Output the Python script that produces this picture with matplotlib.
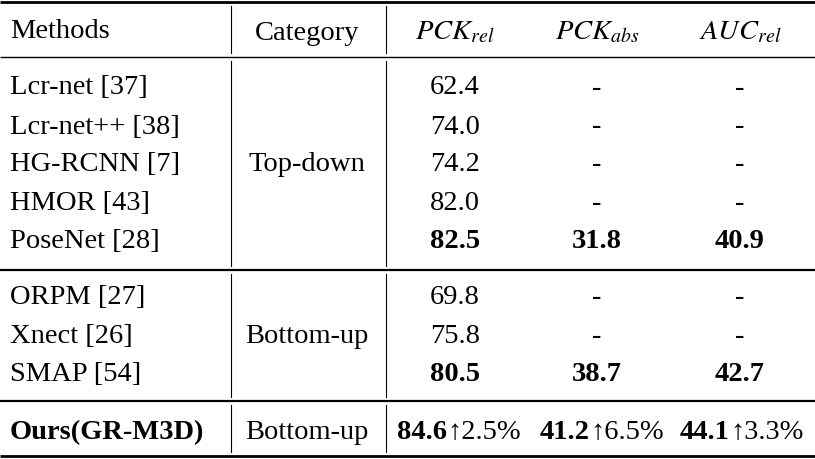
import matplotlib
matplotlib.use("Agg")
import matplotlib.pyplot as plt

plt.rcParams['mathtext.fontset'] = 'stix'
FAM = ['Liberation Serif', 'DejaVu Serif']

headers = ["Methods", "Category", r"$PCK_{rel}$", r"$PCK_{abs}$", r"$AUC_{rel}$"]
top_methods = ["Lcr-net [37]", "Lcr-net++ [38]", "HG-RCNN [7]", "HMOR [43]", "PoseNet [28]"]
top_pck_rel = ["62.4", "74.0", "74.2", "82.0", "82.5"]
top_pck_abs = ["-", "-", "-", "-", "31.8"]
top_auc_rel = ["-", "-", "-", "-", "40.9"]
top_category = "Top-down"
bot_methods = ["ORPM [27]", "Xnect [26]", "SMAP [54]"]
bot_pck_rel = ["69.8", "75.8", "80.5"]
bot_pck_abs = ["-", "-", "38.7"]
bot_auc_rel = ["-", "-", "42.7"]
bot_category = "Bottom-up"
ours_method = "Ours(GR-M3D)"
ours_category = "Bottom-up"
ours_vals = ["84.6", "41.2", "44.1"]
ours_gain = ["↑2.5%", "↑6.5%", "↑3.3%"]

W, H = 815, 460
fig = plt.figure(figsize=(W/100, H/100), dpi=100)
ax = fig.add_axes([0, 0, 1, 1])
ax.set_xlim(0, W); ax.set_ylim(H, 0); ax.axis('off')
FS = 20.5

def t(x, y, s, ha='center', bold=False):
    ax.text(x, y, s, ha=ha, va='center', fontsize=FS, family=FAM,
            fontweight='bold' if (bold and s != '-') else 'normal')

colx = [10, 307, 455, 597, 740]
t(colx[0], 32, headers[0], ha='left')
for i in range(1, 5):
    t(colx[i], 33, headers[i])

rows_top = [88, 127, 165, 204, 242]
for i, y in enumerate(rows_top):
    best = i == len(rows_top) - 1
    t(colx[0], y, top_methods[i], ha='left')
    t(colx[2], y, top_pck_rel[i], bold=best)
    t(colx[3], y, top_pck_abs[i], bold=best)
    t(colx[4], y, top_auc_rel[i], bold=best)
t(colx[1], rows_top[2], top_category)

rows_bot = [298, 337, 375]
for i, y in enumerate(rows_bot):
    best = i == len(rows_bot) - 1
    t(colx[0], y, bot_methods[i], ha='left')
    t(colx[2], y, bot_pck_rel[i], bold=best)
    t(colx[3], y, bot_pck_abs[i], bold=best)
    t(colx[4], y, bot_auc_rel[i], bold=best)
t(colx[1], rows_bot[1], bot_category)

yo = 433
t(colx[0], yo, ours_method, ha='left', bold=True)
t(colx[1], yo, ours_category)
splits = [447, 590, 730]
for v, g, sx in zip(ours_vals, ours_gain, splits):
    t(sx, yo, v, ha='right', bold=True)
    t(sx, yo, g, ha='left')

for y, lw in [(3, 2.0), (58, 1.0), (271, 1.6), (402, 1.6), (457, 2.0)]:
    ax.plot([0, W], [y, y], color='black', lw=lw, solid_capstyle='butt')

for x in [231, 386]:
    for y0, y1 in [(3, 58), (58, 271), (271, 402), (402, 457)]:
        ax.plot([x, x], [y0 + 4, y1 - 4], color='black', lw=0.8)

fig.savefig('out.png', dpi=100)
